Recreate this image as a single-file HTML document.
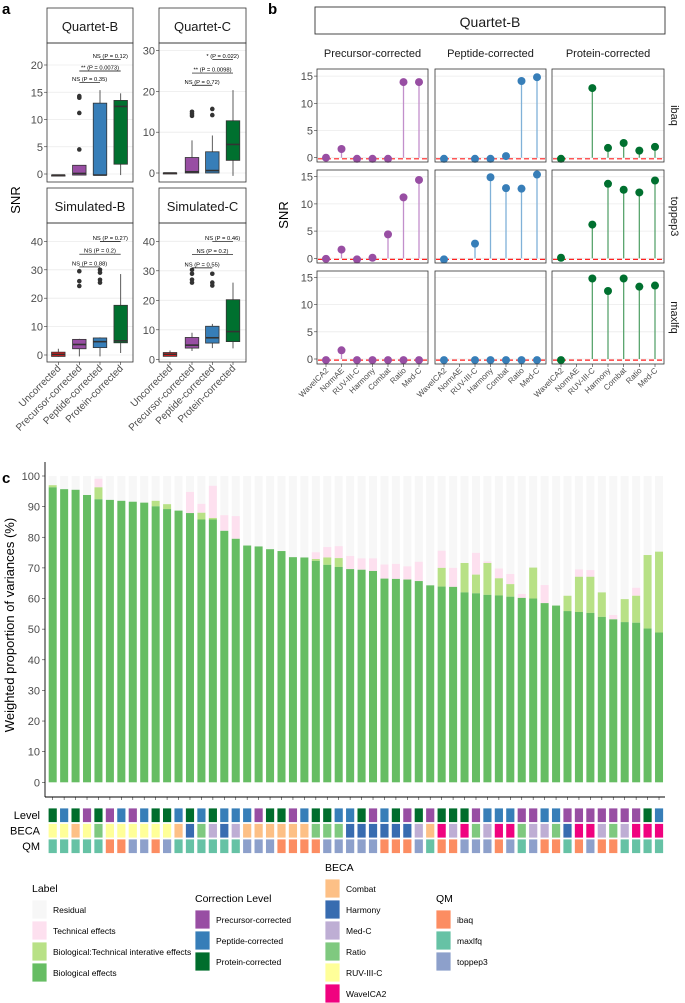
<!DOCTYPE html>
<html><head><meta charset="utf-8">
<style>
body{margin:0;background:#fff;}
svg{display:block;font-family:"Liberation Sans",Arial,sans-serif;}
</style></head>
<body>
<svg id="fig" width="685" height="1003" viewBox="0 0 685 1003" xmlns="http://www.w3.org/2000/svg"></svg>
<script>
// ===== Panel a data =====
const groupNames = ["Uncorrected","Precursor-corrected","Peptide-corrected","Protein-corrected"];
const boxFacets = ["Quartet-B","Quartet-C","Simulated-B","Simulated-C"];
// [min, q1, median, q3, max]
const boxQB = [[-0.2,-0.2,-0.2,-0.2,-0.2],[-0.2,-0.2,0.1,1.6,1.6],[-0.2,-0.2,-0.2,13,15.4],[-0.2,1.8,12.4,13.5,14.8]];
const boxQC = [[0,0,0,0,0],[0,0,0.3,3.8,8],[0,0,0.6,5.2,9.2],[-0.7,3.1,7,12.8,20.3]];
const boxSB = [[-0.6,-0.5,0.2,1,2.2],[-0.5,2.2,3.7,5.5,5.7],[-0.5,2.6,4.7,6,6.2],[0.7,4.3,5,17.5,28.5]];
const boxSC = [[1,1,1.7,2.3,3],[2.8,3.8,4.8,7.4,9],[3.8,5.5,7.3,11.2,12],[3.7,6,9.4,20.2,26]];
const outQB = [[],[4.5,11.2,14,14.3],[],[]];
const outQC = [[],[14,14.5,15],[14.2,15.7],[]];
const outSB = [[],[24.3,26,29.5],[25.5,26.5,29,30],[]];
const outSC = [[],[26,27,29,30.3],[25,26,29],[]];
const sigQB = [["NS (P = 0.35)",1,2,16.8],["** (P = 0.0073)",1,3,18.9],["NS (P = 0.12)",2,3,21]];
const sigQC = [["NS (P = 0.72)",1,2,21.5],["** (P = 0.0098)",1,3,24.5],["* (P = 0.022)",2,3,27.8]];
const sigSB = [["NS (P = 0.88)",1,2,31],["NS (P = 0.2)",1,3,35.5],["NS (P = 0.27)",2,3,40]];
const sigSC = [["NS (P = 0.55)",1,2,31],["NS (P = 0.2)",1,3,35.5],["NS (P = 0.46)",2,3,40]];
const ticksQB = [0,5,10,15,20];
const ticksQC = [0,10,20,30];
const ticksS = [0,10,20,30,40];

// ===== Panel b data =====
const methods = ["WaveICA2","NormAE","RUV-III-C","Harmony","Combat","Ratio","Med-C"];
const levelCols = ["Precursor-corrected","Peptide-corrected","Protein-corrected"];
const qmRows = ["ibaq","toppep3","maxlfq"];
const snrIbaqPre = [0,1.6,-0.2,-0.2,-0.2,13.9,13.9];
const snrIbaqPep = [-0.2,null,-0.2,-0.2,0.3,14.1,14.8];
const snrIbaqPro = [-0.2,null,12.8,1.8,2.7,1.3,2.0];
const snrTopPre = [-0.1,1.6,-0.2,0.1,4.4,11.2,14.4];
const snrTopPep = [-0.2,null,2.7,14.9,12.9,12.8,15.4];
const snrTopPro = [0.1,null,6.2,13.7,12.6,12.1,14.3];
const snrMaxPre = [-0.2,1.6,-0.2,-0.2,-0.2,-0.2,-0.2];
const snrMaxPep = [-0.2,null,-0.2,-0.2,-0.2,-0.2,-0.2];
const snrMaxPro = [-0.2,null,14.8,12.5,14.8,13.3,13.5];
const snrTicks = [0,5,10,15];

// ===== Panel c data =====
const bioEff = [96.3,95.7,95.5,93.8,92.4,92.2,91.9,91.6,91.3,90.1,89.2,88.7,87.9,85.8,85.8,82.1,79.5,77.3,77.0,76.1,75.5,73.5,73.4,72.3,71.0,70.3,69.6,69.4,69.0,66.5,66.4,66.2,65.7,64.3,63.9,63.8,62.0,61.7,61.2,61.0,60.6,60.2,60.0,58.5,57.7,55.9,55.6,55.3,54.0,53.2,52.3,52.1,50.2,48.9];
const interEff = [0.7,0,0,0,3.9,0,0,0,0,1.8,1.6,0,0,2.2,0.5,0,0,0,0,0,0,0,0,0.6,2.4,2.9,0,0,0,0,0,0,0,0,6.1,0,9.6,6.1,10.4,5.6,4.1,0,10.1,0,0,5.0,11.5,11.8,8.0,0,7.5,8.8,24.0,26.4];
const techEff = [0,0,0,0,2.8,0,0,0,0,0,0,0,6.9,2.9,10.5,5.1,7.4,0,0,0,0,0,0,2.2,3.4,3.9,4.3,3.7,4.1,4.6,4.9,4.3,6.3,0,5.6,6.2,0,7.1,0.5,3.2,3.3,1.3,0,5.9,0,0,2.4,2.2,0,1.4,0,2.6,0,0];
const levelSeq = "GBGPGPBPBGGBGBGBBBPGGPBGGBBGPBGPGPGGGPBBBPPBBPPPPPPPGB";
const becaSeq  = "YYOYRYYYYYYOHRMHMOOOOOORRRHHHHHHMOWMWRMWWRMMRHWWMRMWWW";
const qmSeq    = "XXXXXIIPPIPXXXXXXPPPIIIIPPPPPIIIPXIIPPPIPXPIIXIPIIXXXX";
const pctTicks = [0,10,20,30,40,50,60,70,80,90,100];

// ===== helpers =====
const svg = document.getElementById('fig');
const NS = "http://www.w3.org/2000/svg";
function el(tag, attrs, parent, txt){
  const e = document.createElementNS(NS, tag);
  for (const k in attrs) e.setAttribute(k, attrs[k]);
  if (txt !== undefined) e.textContent = txt;
  (parent || svg).appendChild(e);
  return e;
}
function grp(name){
  const g = document.createElementNS(NS,'g');
  
  
  svg.appendChild(g);
  return g;
}
const GREY = "#4d4d4d";

// ===== Panel labels =====
let t;
t = el('text',{x:2,y:14,'font-size':15,'font-weight':'bold',fill:'#000'},null,'a');
 
t = el('text',{x:268,y:14,'font-size':15,'font-weight':'bold',fill:'#000'},null,'b');
 
t = el('text',{x:2,y:483,'font-size':15,'font-weight':'bold',fill:'#000'},null,'c');
 

// ===== Panel a =====
const boxColors = ["#e41a1c","#984ea3","#377eb8","#00702f"];
const aPanels = [
  {name:boxFacets[0], x0:47,x1:133, sy:8, py0:43, py1:182, zero:174, unit:5.45, ticks:ticksQB, box:boxQB, out:outQB, sig:sigQB, xs:[58.3,79.3,100,120.7]},
  {name:boxFacets[1], x0:159,x1:246, sy:8, py0:43, py1:182, zero:173, unit:4.08, ticks:ticksQC, box:boxQC, out:outQC, sig:sigQC, xs:[170,192,212.3,233]},
  {name:boxFacets[2], x0:47,x1:133, sy:188, py0:223, py1:362, zero:355, unit:2.84, ticks:ticksS, box:boxSB, out:outSB, sig:sigSB, xs:[58.3,79.3,100,120.7]},
  {name:boxFacets[3], x0:159,x1:246, sy:188, py0:223, py1:362, zero:359.3, unit:2.95, ticks:ticksS, box:boxSC, out:outSC, sig:sigSC, xs:[170,192,212.3,233]},
];
aPanels.forEach((p,pi)=>{
  const g = grp('boxplot-'+p.name.toLowerCase());
  const Y = v => p.zero - v*p.unit;
  el('rect',{x:p.x0,y:p.sy,width:p.x1-p.x0,height:p.py0-p.sy,fill:'#fff',stroke:'#333','stroke-width':0.8},g);
  const st = el('text',{x:(p.x0+p.x1)/2,y:p.sy+23,'text-anchor':'middle','font-size':13,fill:'#1a1a1a'},g,p.name);
   
  p.ticks.forEach(v=>{
    el('line',{x1:p.x0,x2:p.x1,y1:Y(v),y2:Y(v),stroke:'#ebebeb','stroke-width':0.8},g);
    el('line',{x1:p.x0-3,x2:p.x0,y1:Y(v),y2:Y(v),stroke:'#333','stroke-width':0.6},g);
    const tl = el('text',{x:p.x0-4,y:Y(v)+4,'text-anchor':'end','font-size':11,fill:GREY},g,String(v));
     
  });
  p.box.forEach((b,i)=>{
    const cx = p.xs[i], w = 13.5;
    const bg = document.createElementNS(NS,'g'); g.appendChild(bg);
    
    
    el('line',{x1:cx,x2:cx,y1:Y(b[0]),y2:Y(b[4]),stroke:'#333','stroke-width':0.8},bg);
    el('rect',{x:cx-w/2,y:Y(b[3]),width:w,height:Math.max(1,Y(b[1])-Y(b[3])),fill:boxColors[i],stroke:'#333','stroke-width':0.8},bg);
    el('line',{x1:cx-w/2,x2:cx+w/2,y1:Y(b[2]),y2:Y(b[2]),stroke:'#333','stroke-width':1.6},bg);
    p.out[i].forEach(o=>{
      el('circle',{cx:cx,cy:Y(o),r:2.3,fill:'#333'},bg);
    });
  });
  p.sig.forEach(s=>{
    const yy = Y(s[3]);
    el('line',{x1:p.xs[s[1]],x2:p.xs[s[2]],y1:yy,y2:yy,stroke:'#000','stroke-width':0.7},g);
    const sl = el('text',{x:(p.xs[s[1]]+p.xs[s[2]])/2,y:yy-1.5,'text-anchor':'middle','font-size':5.8,fill:'#000'},g,s[0]);
     
  });
  el('rect',{x:p.x0,y:p.py0,width:p.x1-p.x0,height:p.py1-p.py0,fill:'none',stroke:'#333','stroke-width':0.8},g);
  if (p.sy>100){
    p.xs.forEach((x,i)=>{
      el('line',{x1:x,x2:x,y1:p.py1,y2:p.py1+3,stroke:'#333','stroke-width':0.6},g);
      const xl = el('text',{x:x+3,y:p.py1+7,'text-anchor':'end','font-size':10,fill:GREY,transform:`rotate(-45 ${x+3} ${p.py1+7})`},g,groupNames[i]);
       
    });
  }
});
t = el('text',{x:20,y:200,'text-anchor':'middle','font-size':13,fill:'#000',transform:'rotate(-90 20 200)'},null,'SNR');
 

// ===== Panel b =====
(function(){
  const g = grp('lollipop-panel');
  el('rect',{x:315,y:7,width:350,height:27,fill:'#fff',stroke:'#333','stroke-width':0.9},g);
  const tt = el('text',{x:490,y:27,'text-anchor':'middle','font-size':14,fill:'#1a1a1a'},g,'Quartet-B');
   
  const cols = [[317,428],[435,546],[552,664]];
  const rows = [[69,162,157.7],[170,263,258.3],[271,364,359]];
  const unit = 5.44;
  const dotCol = ["#984ea3","#377eb8","#00702f"];
  const stemCol = ["#c28fcb","#80b1d8","#5aa46e"];
  const data = [[snrIbaqPre,snrIbaqPep,snrIbaqPro],[snrTopPre,snrTopPep,snrTopPro],[snrMaxPre,snrMaxPep,snrMaxPro]];
  cols.forEach((c,ci)=>{
    const h = el('text',{x:(c[0]+c[1])/2,y:57,'text-anchor':'middle','font-size':11,fill:'#1a1a1a'},g,levelCols[ci]);
     
  });
  rows.forEach((r,ri)=>{
    const rl = el('text',{x:671,y:(r[0]+r[1])/2,'text-anchor':'middle','font-size':11,fill:'#1a1a1a',transform:`rotate(90 671 ${(r[0]+r[1])/2})`},g,qmRows[ri]);
     
    const Y = v => r[2] - v*unit;
    cols.forEach((c,ci)=>{
      const X = i => c[0]+9 + i*(c[1]-c[0]-18)/6;
      const pg = document.createElementNS(NS,'g'); g.appendChild(pg);
      
      
      snrTicks.forEach(v=>{
        el('line',{x1:c[0],x2:c[1],y1:Y(v),y2:Y(v),stroke:'#ebebeb','stroke-width':0.8},pg);
        if(ci===0){
          el('line',{x1:c[0]-3,x2:c[0],y1:Y(v),y2:Y(v),stroke:'#333','stroke-width':0.6},pg);
          const yl = el('text',{x:c[0]-4,y:Y(v)+4,'text-anchor':'end','font-size':11,fill:GREY},pg,String(v));
           
        }
      });
      const vals = data[ri][ci];
      vals.forEach((v,i)=>{
        if(v===null) return;
        el('line',{x1:X(i),x2:X(i),y1:Y(0),y2:Y(v),stroke:stemCol[ci],'stroke-width':1.3},pg);
      });
      el('line',{x1:c[0]+1,x2:c[1]-1,y1:Y(-0.2),y2:Y(-0.2),stroke:'#ff2020','stroke-width':1.2,'stroke-dasharray':'5,3'},pg);
      vals.forEach((v,i)=>{
        if(v===null) return;
        const d = el('circle',{cx:X(i),cy:Y(v),r:4,fill:dotCol[ci]},pg);
         
      });
      el('rect',{x:c[0],y:r[0],width:c[1]-c[0],height:r[1]-r[0],fill:'none',stroke:'#333','stroke-width':0.8},pg);
      if(ri===2){
        methods.forEach((m,i)=>{
          el('line',{x1:X(i),x2:X(i),y1:r[1],y2:r[1]+3,stroke:'#333','stroke-width':0.6},pg);
          const ml = el('text',{x:X(i)+3,y:r[1]+7,'text-anchor':'end','font-size':8,fill:GREY,transform:`rotate(-45 ${X(i)+3} ${r[1]+7})`},pg,m);
           
        });
      }
    });
  });
  const yt = el('text',{x:288,y:215,'text-anchor':'middle','font-size':13,fill:'#000',transform:'rotate(-90 288 215)'},g,'SNR');
   
})();

// ===== Panel c =====
(function(){
  const g = grp('variance-bar-chart');
  const zero = 782.3, unit = 3.063;
  const Y = v => zero - v*unit;
  const X = i => 52.7 + i*11.44;
  const bw = 8;
  pctTicks.forEach(v=>{
    el('line',{x1:42,x2:45,y1:Y(v),y2:Y(v),stroke:'#333','stroke-width':0.6},g);
    const tl = el('text',{x:40,y:Y(v)+4,'text-anchor':'end','font-size':11,fill:GREY},g,String(v));
     
  });
  bioEff.forEach((b,i)=>{
    const bg = document.createElementNS(NS,'g'); g.appendChild(bg);
    
    
    const x = X(i)-bw/2;
    el('rect',{x:x,y:Y(100),width:bw,height:Y(0)-Y(100),fill:'#f7f7f7'},bg);
    const t1 = b + interEff[i], t2 = t1 + techEff[i];
    if(techEff[i]>0) el('rect',{x:x,y:Y(t2),width:bw,height:Y(t1)-Y(t2),fill:'#fde0ef'},bg);
    if(interEff[i]>0) el('rect',{x:x,y:Y(t1),width:bw,height:Y(b)-Y(t1),fill:'#b8e186'},bg);
    el('rect',{x:x,y:Y(b),width:bw,height:Y(0)-Y(b),fill:'#66bd63'},bg);
    el('line',{x1:X(i),x2:X(i),y1:797,y2:800,stroke:'#333','stroke-width':0.6},bg);
  });
  el('line',{x1:45,x2:45,y1:462,y2:797,stroke:'#000','stroke-width':0.9},g);
  el('line',{x1:45,x2:665,y1:797,y2:797,stroke:'#000','stroke-width':0.9},g);
  const yt = el('text',{x:14,y:625,'text-anchor':'middle','font-size':13,fill:'#000',transform:'rotate(-90 14 625)'},g,'Weighted proportion of variances (%)');
   

  const lvC = {P:'#984ea3',B:'#377eb8',G:'#006d2c'};
  const bcC = {O:'#fdc086',H:'#386cb0',M:'#beaed4',R:'#7fc97f',Y:'#ffff99',W:'#f0027f'};
  const qmC = {I:'#fc8d62',X:'#66c2a5',P:'#8da0cb'};
  const strips = [['Level',levelSeq,lvC,808],['BECA',becaSeq,bcC,823.5],['QM',qmSeq,qmC,839]];
  strips.forEach(s=>{
    const sg = document.createElementNS(NS,'g'); g.appendChild(sg);
    
    
    const lb = el('text',{x:40,y:s[3]+11,'text-anchor':'end','font-size':11,fill:'#000'},sg,s[0]);
     
    for(let i=0;i<s[1].length;i++){
      el('rect',{x:X(i)-4.5,y:s[3],width:9,height:14.5,fill:s[2][s[1][i]],stroke:'#fff','stroke-width':0.8},sg);
    }
  });
})();

// ===== Legends =====
function legend(name, title, tx, ty, items, kx, ky0, step){
  const g = grp(name);
  const tt = el('text',{x:tx,y:ty,'font-size':10.5,fill:'#000'},g,title);
   
  items.forEach((it,i)=>{
    const eg = document.createElementNS(NS,'g'); g.appendChild(eg);
    
    
    el('rect',{x:kx,y:ky0+i*step,width:15,height:19,fill:it[1],stroke:'#fff','stroke-width':0.8},eg);
    el('text',{x:kx+21,y:ky0+i*step+13,'font-size':8.5,fill:'#000'},eg,it[0]);
  });
}
legend('legend-label','Label',32,892,[['Residual','#f7f7f7'],['Technical effects','#fde0ef'],['Biological:Technical interative effects','#b8e186'],['Biological effects','#66bd63']],32,900,21);
legend('legend-correction-level','Correction Level',195,902,[['Precursor-corrected','#984ea3'],['Peptide-corrected','#377eb8'],['Protein-corrected','#006d2c']],195,910,21);
legend('legend-beca','BECA',325,871,[['Combat','#fdc086'],['Harmony','#386cb0'],['Med-C','#beaed4'],['Ratio','#7fc97f'],['RUV-III-C','#ffff99'],['WaveICA2','#f0027f']],325,879,21);
legend('legend-qm','QM',436,902,[['ibaq','#fc8d62'],['maxlfq','#66c2a5'],['toppep3','#8da0cb']],436,910,21);
</script>
</body></html>
